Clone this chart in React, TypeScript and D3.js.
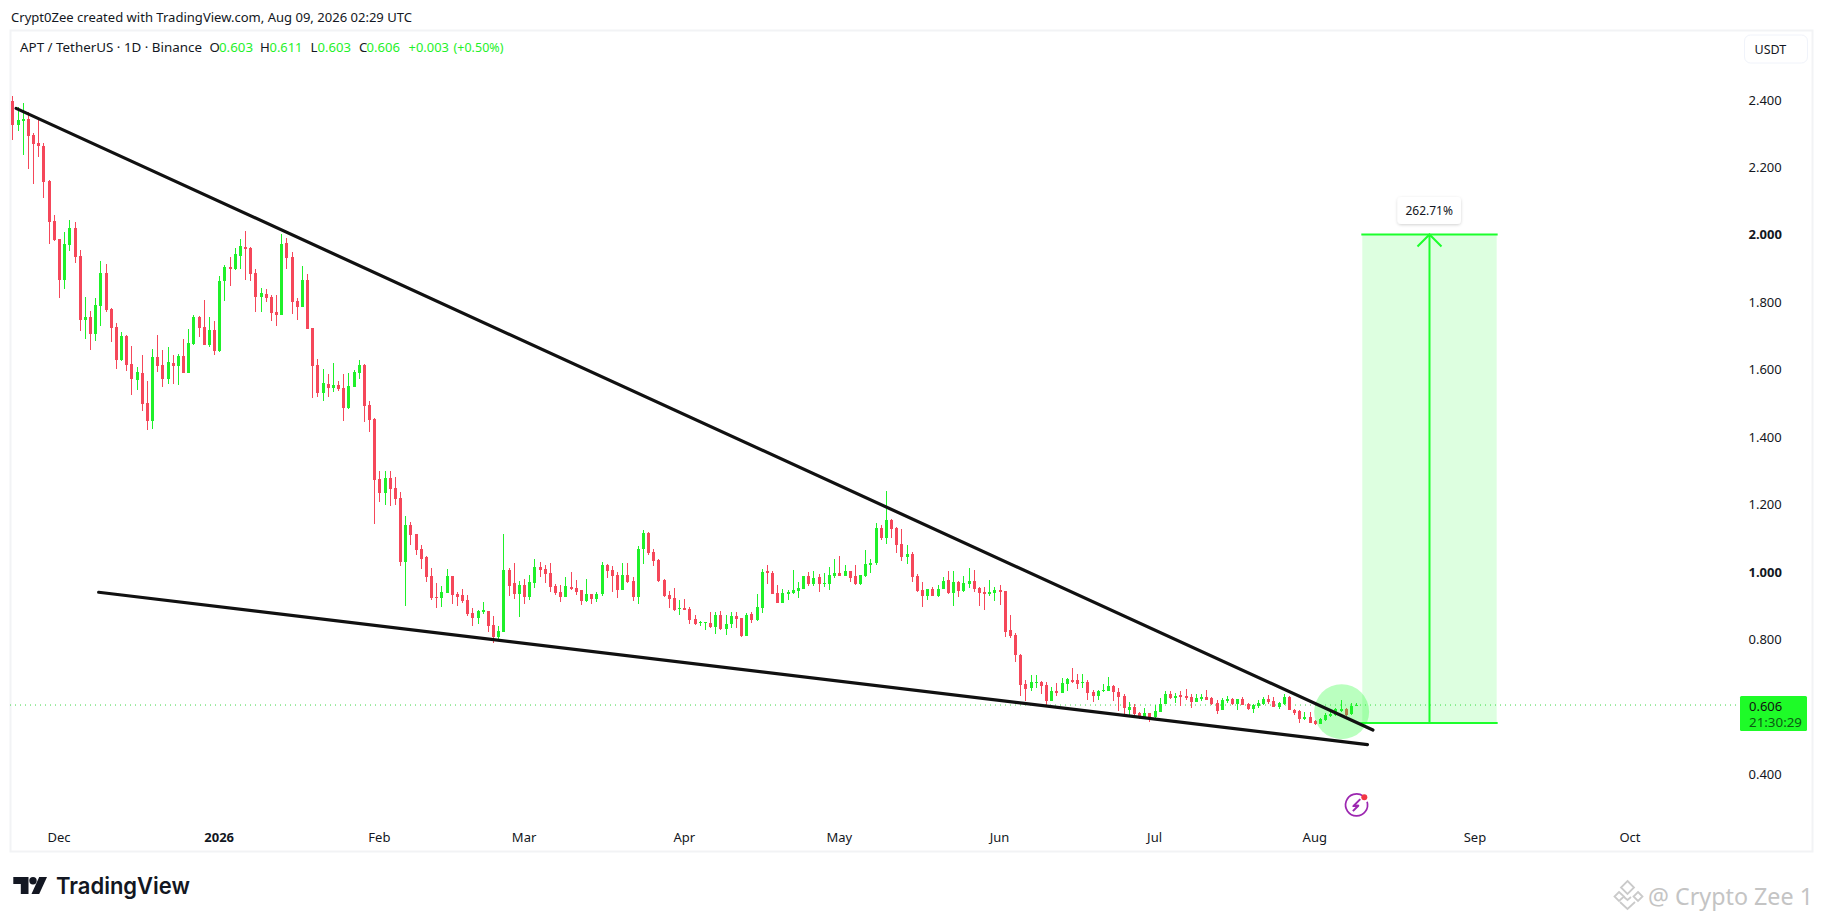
import React from "react";
import * as d3 from "d3";

// Day number of the first candle, counted from 1 Dec 2025 = 0
const firstDay = -9;

const opens = [
2.396,2.325,2.337,2.342,2.294,2.270,2.262,2.160,2.039,1.987,
1.865,1.969,2.019,1.936,1.747,1.755,1.706,1.789,1.886,1.779,
1.726,1.628,1.699,1.616,1.569,1.589,1.500,1.448,1.637,1.613,
1.571,1.618,1.611,1.640,1.590,1.675,1.755,1.725,1.672,1.717,
1.655,1.862,1.904,1.898,1.936,1.963,1.960,1.886,1.815,1.823,
1.815,1.770,1.761,1.975,1.933,1.803,1.785,1.865,1.723,1.613,
1.530,1.556,1.544,1.553,1.544,1.485,1.547,1.589,1.613,1.494,
1.453,1.275,1.233,1.278,1.248,1.218,1.028,1.138,1.112,1.067,
1.043,.987,.925,.922,.936,.987,.933,.930,.916,.877,
.862,.880,.883,.841,.806,.821,1.005,.966,.933,.960,
.925,.966,1.014,1.008,.996,.957,.939,.925,.954,.951,
.945,.913,.933,.919,.933,1.019,1.005,.990,.946,.990,
.972,.925,1.067,1.115,1.058,1.035,.975,.931,.922,.889,
.892,.889,.859,.848,.849,.849,.836,.871,.830,.845,
.868,.862,.809,.874,.857,.892,1.002,.996,.937,.907,
.934,.937,.943,.949,.987,.963,.984,.963,.963,.987,
.996,.987,1.002,.987,.963,.987,1.020,1.026,1.130,1.100,
1.153,1.130,1.082,1.043,1.052,.987,.946,.928,.949,.928,
.949,.975,.937,.969,.943,.963,.972,.951,.940,.934,
.937,.946,.943,.827,.812,.753,.667,.655,.670,.673,
.664,.616,.646,.640,.667,.678,.678,.670,.673,.643,
.631,.646,.646,.661,.643,.631,.589,.598,.581,.569,
.581,.569,.584,.607,.637,.625,.634,.631,.628,.613,
.622,.628,.625,.610,.590,.616,.622,.607,.622,.607,
.592,.601,.607,.622,.616,.599,.607,.628,.590,.587,
.563,.569,.557,.548,.560,.572,.575,.587,.592,.578,.603];

const highs = [
2.411,2.377,2.389,2.362,2.300,2.346,2.270,2.162,2.057,1.987,
2.006,2.043,2.037,1.953,1.815,1.773,1.811,1.920,1.912,1.781,
1.737,1.710,1.701,1.668,1.607,1.642,1.565,1.660,1.701,1.656,
1.666,1.642,1.645,1.690,1.720,1.761,1.758,1.806,1.755,1.743,
1.877,1.910,1.933,1.960,1.987,2.010,1.963,1.898,1.841,1.838,
1.820,1.820,2.001,1.990,1.948,1.812,1.906,1.883,1.723,1.631,
1.601,1.586,1.619,1.565,1.586,1.589,1.598,1.628,1.616,1.506,
1.456,1.300,1.298,1.300,1.281,1.236,1.165,1.147,1.112,1.079,
1.046,1.011,.966,.957,1.008,.987,.939,.948,.931,.892,
.886,.910,.883,.868,.838,1.112,1.011,1.025,.972,.978,
.990,1.037,1.028,1.020,1.025,.963,.960,.984,.999,.975,
.945,.978,.933,.939,1.028,1.023,1.017,.999,1.026,1.026,
.984,1.076,1.124,1.118,1.067,1.038,.978,.943,.951,.916,
.919,.895,.871,.854,.850,.880,.880,.883,.871,.880,
.880,.862,.877,.880,.934,1.008,1.020,1.002,.960,.948,
.945,1.005,.969,.987,.999,1.002,.993,.996,1.014,1.037,
1.046,1.020,1.002,1.020,.990,1.064,1.038,1.144,1.138,1.239,
1.156,1.132,1.127,1.079,1.058,.993,.969,.949,.955,.960,
.984,1.002,1.002,.972,.987,1.011,1.005,.954,.954,.975,
.954,.960,.943,.871,.817,.756,.679,.693,.693,.676,
.673,.658,.670,.684,.684,.714,.696,.696,.679,.649,
.649,.667,.687,.664,.655,.637,.613,.607,.584,.595,
.581,.604,.625,.646,.646,.640,.646,.652,.637,.637,
.637,.649,.628,.619,.625,.631,.625,.622,.628,.610,
.607,.619,.628,.634,.628,.613,.637,.631,.593,.590,
.584,.584,.560,.566,.581,.584,.595,.619,.595,.610,.611];

const lows = [
2.280,2.308,2.236,2.194,2.150,2.231,2.109,1.973,1.982,1.813,
1.838,1.951,1.916,1.715,1.691,1.658,1.684,1.729,1.770,1.682,
1.602,1.626,1.596,1.525,1.540,1.477,1.420,1.424,1.592,1.549,
1.558,1.558,1.555,1.590,1.589,1.672,1.697,1.673,1.666,1.642,
1.652,1.803,1.847,1.895,1.898,1.865,1.862,1.770,1.770,1.800,
1.743,1.729,1.761,1.898,1.764,1.746,1.785,1.720,1.515,1.518,
1.506,1.518,1.533,1.536,1.447,1.482,1.547,1.571,1.444,1.414,
1.141,1.206,1.198,1.195,1.198,1.017,.898,1.079,1.049,1.008,
.969,.916,.892,.895,.936,.904,.898,.907,.868,.839,
.844,.874,.821,.788,.797,.821,.928,.919,.865,.904,
.916,.951,.984,.966,.939,.931,.910,.925,.945,.931,
.901,.910,.904,.910,.928,.981,.940,.922,.946,.966,
.913,.904,1.023,1.049,1.017,.969,.925,.892,.883,.871,
.886,.845,.842,.839,.827,.833,.815,.827,.812,.833,
.833,.806,.809,.848,.854,.877,.963,.934,.907,.907,
.916,.934,.922,.949,.957,.957,.940,.954,.946,.981,
.987,.987,.969,.960,.960,.984,.996,1.020,1.094,1.082,
1.100,1.055,1.032,1.023,.969,.940,.895,.916,.928,.925,
.949,.934,.898,.925,.940,.951,.940,.898,.886,.928,
.913,.901,.806,.803,.732,.631,.616,.646,.655,.637,
.604,.616,.631,.640,.646,.670,.652,.655,.619,.613,
.619,.643,.646,.616,.587,.572,.569,.572,.563,.563,
.554,.560,.584,.607,.622,.610,.601,.619,.595,.613,
.616,.619,.604,.578,.590,.610,.604,.590,.604,.590,
.581,.595,.604,.607,.599,.593,.604,.590,.575,.551,
.560,.551,.545,.548,.557,.569,.572,.584,.572,.575,.603];

const closes = [
2.326,2.340,2.343,2.293,2.269,2.263,2.157,2.038,1.983,1.865,
1.972,2.019,1.934,1.747,1.755,1.706,1.791,1.886,1.776,1.724,
1.629,1.699,1.614,1.571,1.592,1.498,1.448,1.637,1.611,1.572,
1.622,1.611,1.640,1.590,1.678,1.755,1.724,1.673,1.717,1.655,
1.862,1.904,1.898,1.942,1.966,1.957,1.883,1.815,1.826,1.811,
1.767,1.761,1.972,1.930,1.800,1.785,1.865,1.720,1.610,1.530,
1.559,1.544,1.553,1.541,1.485,1.550,1.592,1.613,1.491,1.450,
1.272,1.233,1.278,1.245,1.215,1.028,1.138,1.109,1.064,1.037,
.984,.922,.922,.939,.987,.931,.925,.913,.874,.862,
.883,.886,.838,.806,.824,1.005,.957,.933,.960,.925,
.969,1.014,1.005,.993,.954,.936,.925,.957,.948,.939,
.913,.933,.919,.933,1.019,1.002,.987,.946,.990,.969,
.925,1.067,1.115,1.055,1.032,.972,.928,.919,.886,.892,
.886,.857,.845,.851,.850,.836,.871,.830,.845,.868,
.859,.809,.871,.857,.895,.999,.996,.934,.907,.937,
.939,.946,.951,.987,.963,.981,.963,.966,.990,.996,
.987,1.002,.981,.963,.990,1.023,1.026,1.130,1.100,1.153,
1.127,1.079,1.043,1.052,.984,.943,.928,.949,.928,.949,
.972,.937,.969,.943,.966,.972,.949,.937,.934,.940,
.946,.940,.822,.809,.753,.664,.652,.673,.673,.661,
.616,.646,.640,.670,.681,.673,.667,.673,.640,.631,
.646,.649,.661,.643,.628,.595,.598,.578,.572,.581,
.569,.587,.607,.637,.625,.631,.628,.625,.613,.625,
.628,.619,.607,.587,.619,.622,.607,.622,.604,.592,
.604,.610,.622,.613,.599,.610,.628,.590,.581,.563,
.569,.551,.548,.563,.575,.578,.592,.592,.575,.601,.606];

const priceTicks = [2.4, 2.2, 2.0, 1.8, 1.6, 1.4, 1.2, 1.0, 0.8, 0.4];
const boldPriceTicks = [2.0, 1.0];
const timeLabels = ["Dec", "2026", "Feb", "Mar", "Apr", "May", "Jun", "Jul", "Aug", "Sep", "Oct"];
const timeDays = [0, 31, 62, 90, 121, 151, 182, 212, 243, 274, 304];

const upperLineDays = [-8.3, 254.25];
const upperLinePrices = [2.374, 0.5305];
const lowerLineDays = [7.68, 253.2];
const lowerLinePrices = [0.939, 0.487];

const targetDays = [252.2, 278.2];
const entryPrice = 0.5513;
const targetPrice = 2.0;
const lastPrice = 0.606;
const circleDay = 248.2;
const circlePrice = 0.5848;

const GREEN = "#1ff02a";
const RED = "#f5475a";
const LINE_GREEN = "#1cff2c";
const FONT = "'Noto Sans', Tahoma, sans-serif";
const TEXT = "#131722";

const x = d3.scaleLinear().domain([0, 304]).range([59, 1630]);
const y = d3.scaleLinear().domain([0.4, 2.4]).range([774, 99.6]);
const line = d3.line<[number, number]>().x((d) => x(d[0])).y((d) => y(d[1]));

export default function App() {
  const targetMid = (targetDays[0] + targetDays[1]) / 2;
  const xm = x(targetMid);
  const yTop = y(targetPrice);
  const yBot = y(entryPrice);
  const xl = x(targetDays[0]);
  const xr = x(targetDays[1]);
  return (
    <svg
      width={1824}
      height={920}
      viewBox="0 0 1824 920"
      style={{ position: "fixed", left: 0, top: 0, background: "#fff", fontFamily: FONT }}
    >
      <defs>
        <filter id="shadow" x="-30%" y="-50%" width="160%" height="200%">
          <feDropShadow dx="0" dy="1" stdDeviation="1.6" floodColor="#000" floodOpacity="0.18" />
        </filter>
      </defs>
      <rect width={1824} height={920} fill="#fff" />
      <text x={11} y={22} fontSize={13.2} fill={TEXT} textLength={401} lengthAdjust="spacingAndGlyphs">
        Crypt0Zee created with TradingView.com, Aug 09, 2026 02:29 UTC
      </text>
      <rect x={10.5} y={30.5} width={1802} height={821} fill="#fff" stroke="#f2f3f5" strokeWidth={2} />

      <g fontSize={13.2} dominantBaseline="central">
        <text x={20} y={47} fill={TEXT} textLength={182} lengthAdjust="spacingAndGlyphs">APT / TetherUS · 1D · Binance</text>
        <text x={209.5} y={47} fill={TEXT}>O</text>
        <text x={219} y={47} fill={GREEN} textLength={34} lengthAdjust="spacingAndGlyphs">0.603</text>
        <text x={260} y={47} fill={TEXT}>H</text>
        <text x={269.5} y={47} fill={GREEN} textLength={33} lengthAdjust="spacingAndGlyphs">0.611</text>
        <text x={310.5} y={47} fill={TEXT}>L</text>
        <text x={317.5} y={47} fill={GREEN} textLength={33.5} lengthAdjust="spacingAndGlyphs">0.603</text>
        <text x={359} y={47} fill={TEXT}>C</text>
        <text x={366.5} y={47} fill={GREEN} textLength={33.5} lengthAdjust="spacingAndGlyphs">0.606</text>
        <text x={408.5} y={47} fill={GREEN} textLength={40.5} lengthAdjust="spacingAndGlyphs">+0.003</text>
        <text x={453.5} y={47} fill={GREEN} textLength={50} lengthAdjust="spacingAndGlyphs">(+0.50%)</text>
      </g>

      <line x1={10} x2={1737} y1={y(lastPrice) + 0.5} y2={y(lastPrice) + 0.5} stroke="#3ad646" strokeWidth={1} strokeDasharray="1 4" />

      <g>
        {opens.map((o, i) => {
          const cx = Math.round(x(firstDay + i));
          const c = closes[i];
          const up = c >= o;
          const fill = up ? GREEN : RED;
          const top = Math.round(y(Math.max(o, c)));
          const bot = Math.round(y(Math.min(o, c)));
          const yh = Math.round(y(highs[i]));
          const yl = Math.round(y(lows[i]));
          return (
            <g key={i} fill={fill} shapeRendering="crispEdges">
              <rect x={cx} y={yh} width={1} height={Math.max(1, yl - yh)} />
              <rect x={cx - 1} y={top} width={3} height={Math.max(1, bot - top)} />
            </g>
          );
        })}
      </g>

      <rect x={xl} y={yTop} width={xr - xl} height={yBot - yTop} fill="#1cff2c" fillOpacity={0.15} />
      <line x1={xl - 1} x2={xr + 1} y1={yTop} y2={yTop} stroke={LINE_GREEN} strokeWidth={2} />
      <line x1={xl - 2} x2={xr + 1} y1={yBot} y2={yBot} stroke={LINE_GREEN} strokeWidth={2} />
      <line x1={xm} x2={xm} y1={yTop} y2={yBot} stroke={LINE_GREEN} strokeWidth={2} />
      <path
        d={`M${xm - 12},${yTop + 12} L${xm},${yTop} L${xm + 12},${yTop + 12}`}
        fill="none"
        stroke={LINE_GREEN}
        strokeWidth={2}
      />
      <rect x={xm - 32} y={197} width={63.5} height={27} rx={4} fill="#fff" filter="url(#shadow)" />
      <text x={xm - 0.3} y={210} fontSize={12} textAnchor="middle" dominantBaseline="central" fill={TEXT}>262.71%</text>

      <circle cx={x(circleDay)} cy={y(circlePrice)} r={27.5} fill="#1cff2c" fillOpacity={0.3} />

      <path d={line([[upperLineDays[0], upperLinePrices[0]], [upperLineDays[1], upperLinePrices[1]]]) ?? ""} stroke="#111" strokeWidth={3.2} fill="none" strokeLinecap="round" />
      <path d={line([[lowerLineDays[0], lowerLinePrices[0]], [lowerLineDays[1], lowerLinePrices[1]]]) ?? ""} stroke="#111" strokeWidth={3.2} fill="none" strokeLinecap="round" />

      <g transform="translate(1356.7 805.3)">
        <path d="M6.5,-9.2 A11,11 0 1 0 10.4,-3.6" fill="none" stroke="#9c27b0" strokeWidth={1.7} />
        <path d="M3.6,-6.2 L-3.4,0.8 L1.6,0.4 L-3.8,5.8 M-3.6,0.8 L1.8,0.4" fill="none" stroke="#9c27b0" strokeWidth={2} strokeLinejoin="round" />
        <circle cx={7.6} cy={-8} r={3} fill="#f23645" />
      </g>

      <g fontSize={13} dominantBaseline="central" fill={TEXT}>
        {priceTicks.map((t) => (
          <text key={t} x={1748.5} y={y(t)} fontWeight={boldPriceTicks.includes(t) ? 700 : 400}>
            {t.toFixed(3)}
          </text>
        ))}
      </g>
      <rect x={1744.5} y={35} width={63} height={28} rx={6} fill="#fff" stroke="#f0f3fa" />
      <text x={1754.5} y={49} fontSize={12.5} dominantBaseline="central" fill={TEXT}>USDT</text>

      <rect x={1740} y={696} width={67} height={35} rx={1.5} fill="#1efb28" />
      <text x={1749} y={706} fontSize={13} dominantBaseline="central" fill="#111">0.606</text>
      <text x={1749} y={722} fontSize={12.5} dominantBaseline="central" fill="#0b5c12" textLength={53} lengthAdjust="spacingAndGlyphs">21:30:29</text>

      <g fontSize={13} textAnchor="middle" dominantBaseline="central" fill={TEXT}>
        {timeLabels.map((t, i) => (
          <text key={t} x={x(timeDays[i])} y={836.7} fontWeight={t === "2026" ? 700 : 400}>{t}</text>
        ))}
      </g>

      <g fill="#131722">
        <path d="M13.3,877 H28.5 V894 H20.8 V884 H13.3 Z" />
        <circle cx={33} cy={880.7} r={3.7} />
        <path d="M39.2,877 H47 L39.2,894 H31.5 Z" />
      </g>
      <text x={56} y={885.5} fontFamily="Inter, sans-serif" fontWeight={600} fontSize={23} fill="#131722" dominantBaseline="central" textLength={134} lengthAdjust="spacingAndGlyphs">TradingView</text>

      <g stroke="#c8c8c8" strokeWidth={1.8} fill="none" opacity={0.95}>
        <path d="M1627.5,881 L1634,887.5 L1627.5,894 L1621,887.5 Z" />
        <path d="M1617,892 L1622,896.5 L1617,901 L1612.5,896.5 Z" transform="translate(2,0)" />
        <path d="M1638,892 L1642.5,896.5 L1638,901 L1633.5,896.5 Z" />
        <path d="M1620,902 L1627.5,909 L1635,902" />
        <path d="M1624,897 L1627.5,900 L1631,897" />
      </g>
      <text x={1648} y={895} fontSize={24} fill="#c4c4c4" dominantBaseline="central" textLength={165} lengthAdjust="spacingAndGlyphs" style={{ paintOrder: "stroke" }} stroke="#fff" strokeWidth={0.6}>@ Crypto Zee 1</text>
    </svg>
  );
}
